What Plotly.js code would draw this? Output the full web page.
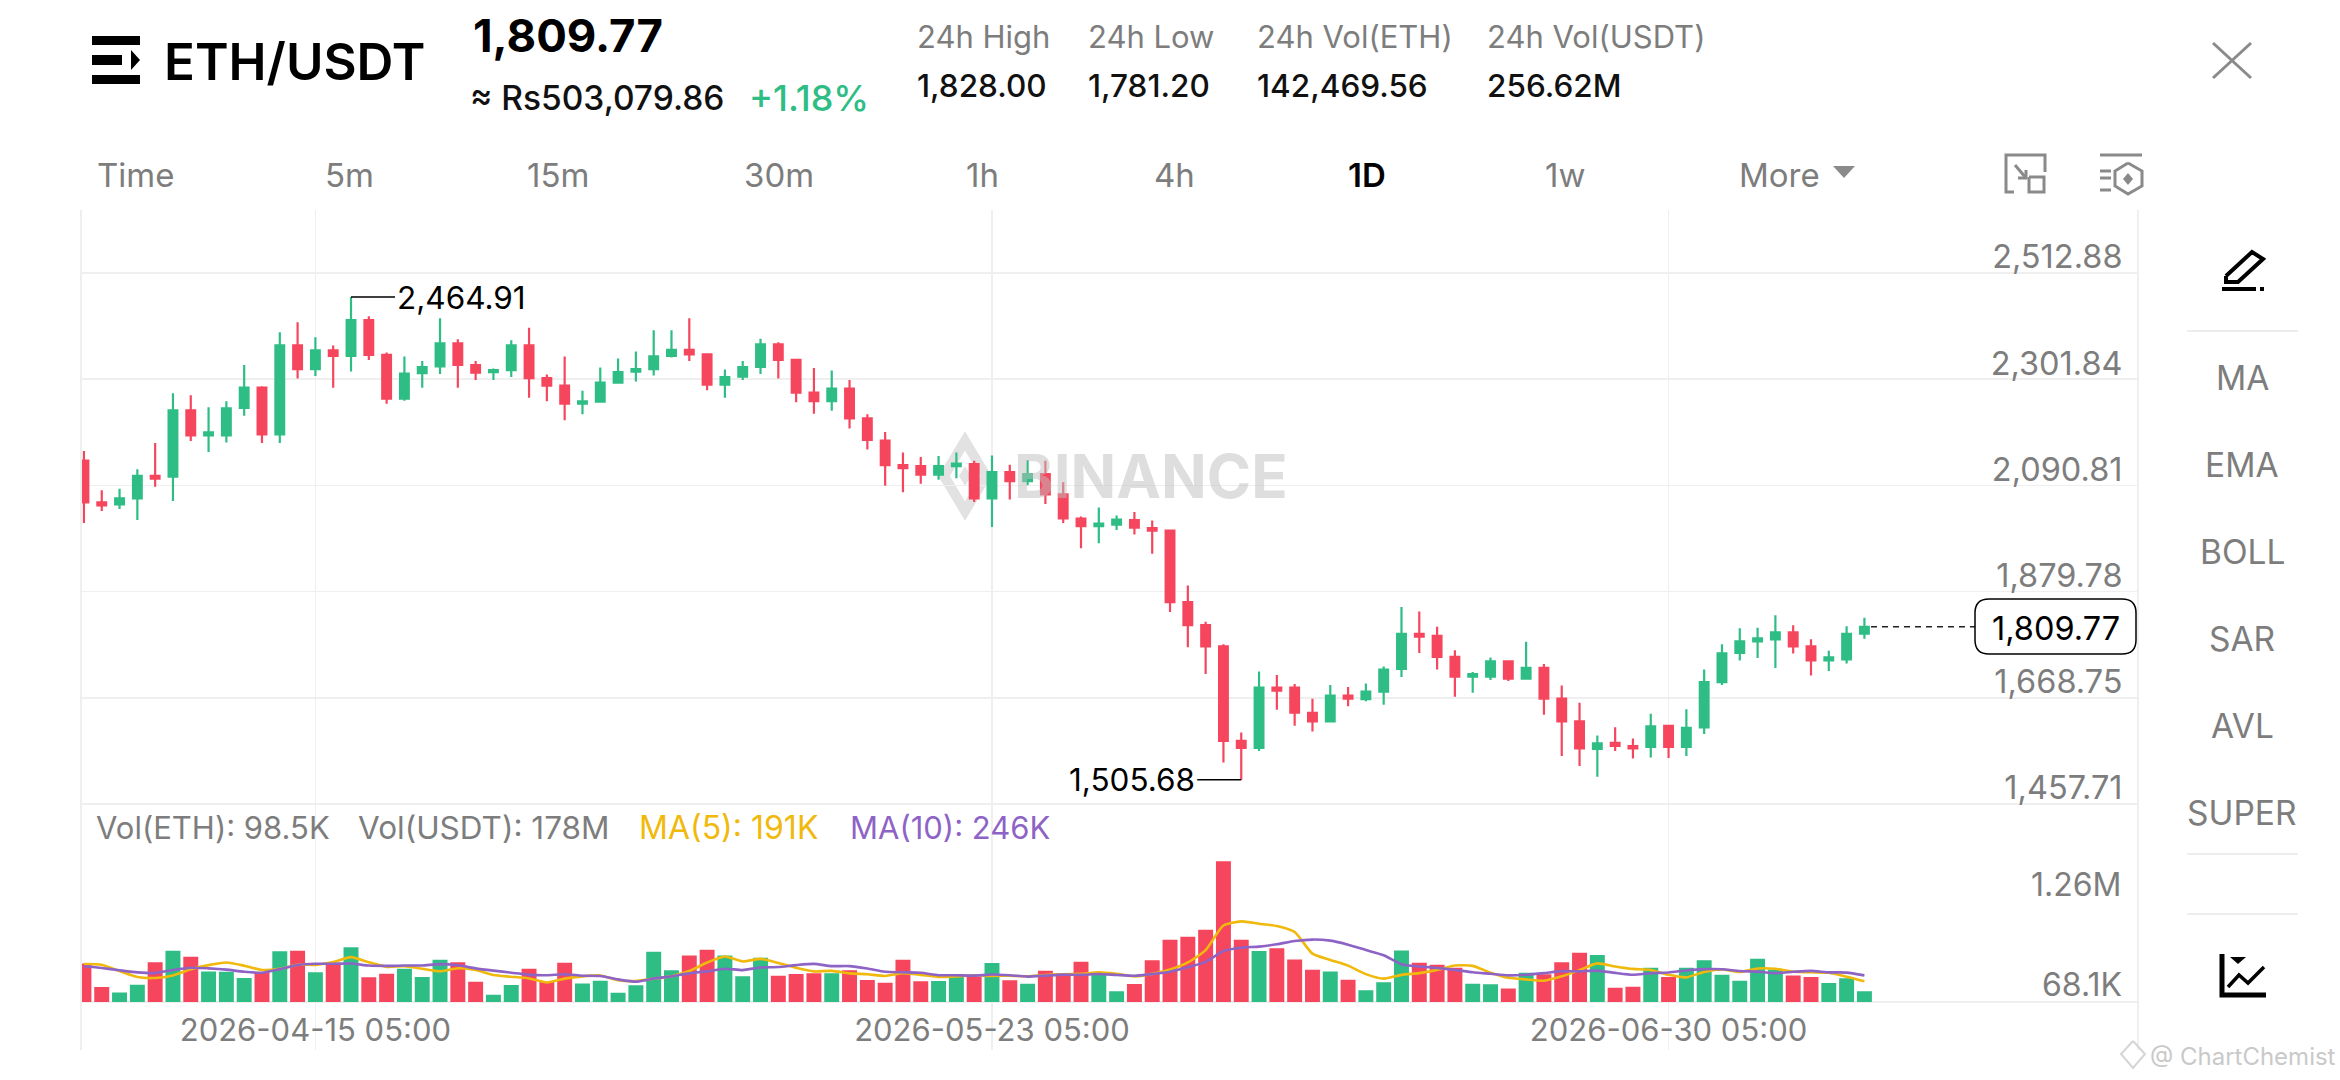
<!DOCTYPE html>
<html>
<head>
<meta charset="utf-8">
<script src="https://cdn.plot.ly/plotly-3.0.1.min.js"></script>
<style>html,body{margin:0;padding:0;background:#fff}#chart{width:2340px;height:1080px}</style>
</head>
<body>
<div id="chart"></div>
<script>
const days = ["04-02","04-03","04-04","04-05","04-06","04-07","04-08","04-09","04-10","04-11","04-12","04-13","04-14","04-15","04-16","04-17","04-18","04-19","04-20","04-21","04-22","04-23","04-24","04-25","04-26","04-27","04-28","04-29","04-30",
"05-01","05-02","05-03","05-04","05-05","05-06","05-07","05-08","05-09","05-10","05-11","05-12","05-13","05-14","05-15","05-16","05-17","05-18","05-19","05-20","05-21","05-22","05-23","05-24","05-25","05-26","05-27","05-28","05-29","05-30","05-31",
"06-01","06-02","06-03","06-04","06-05","06-06","06-07","06-08","06-09","06-10","06-11","06-12","06-13","06-14","06-15","06-16","06-17","06-18","06-19","06-20","06-21","06-22","06-23","06-24","06-25","06-26","06-27","06-28","06-29","06-30",
"07-01","07-02","07-03","07-04","07-05","07-06","07-07","07-08","07-09","07-10","07-11"];
const opens = [2140,2057,2053,2065,2110,2108,2240,2190,2190,2245,2285,2192,2369,2322,2359,2348,2419,2350,2263,2314,2327,2373,2330,2316,2320,2369,2304,2289,2253,2257,2295,2317,2322,2348,2360,2351,2291,2307,2326,2371,2340,2275,2258,2283,2224,2180,2131,2129,2112,2129,2133,2065,2117,2099,2113,2073,2025,2010,2013,2022,2006,2001,1859,1813,1771,1583,1569,1689,1689,1639,1622,1673,1666,1681,1726,1796,1792,1750,1711,1711,1741,1707,1728,1667,1622,1567,1579,1573,1571,1613,1571,1610,1700,1758,1781,1785,1799,1771,1743,1745,1796];
const highs = [2159,2081,2084,2123,2175,2274,2270,2246,2258,2330,2288,2395,2415,2385,2369,2464.91,2427,2355,2347,2338,2423,2381,2338,2323,2379,2404,2311,2347,2279,2325,2343,2357,2399,2399,2423,2353,2321,2338,2382,2375,2341,2324,2319,2300,2232,2197,2156,2147,2149,2156,2140,2150,2132,2141,2140,2097,2029,2047,2031,2038,2021,2003,1892,1820,1775,1600,1721,1714,1696,1667,1694,1690,1697,1731,1849,1840,1810,1763,1720,1749,1741.5,1780,1736,1693,1659,1594,1610,1588,1637,1614,1646,1725,1775,1807,1808,1833,1813,1785,1762,1811,1828];
const lows = [2016,2040,2044,2022,2088,2060,2179,2157,2176,2229,2175,2175,2303,2308,2285,2317,2340,2253,2259,2285,2312,2285,2300,2300,2306,2265,2258,2220,2232,2256,2293,2297,2309,2345,2338,2280,2265,2300,2312,2303,2256,2233,2239,2204,2162,2090,2077,2094,2102,2105,2058,2008,2063,2091,2054,2016,1966,1976,2002,1993,1955,1839,1769,1716,1540,1505.68,1563,1645,1613,1602,1621,1652,1662,1655,1710,1758,1725,1671,1679,1704,1702,1706,1635,1553,1533,1512,1563,1548,1550,1549,1553,1597,1694,1743,1748,1728,1757,1713,1722,1737,1786];
const closes = [2057,2051,2065,2110,2104,2240,2190,2196,2244,2285,2192,2369,2322,2359,2348,2419,2350,2263,2313,2326,2373,2330,2315,2320,2369,2304,2289,2253,2258,2295,2316,2322,2347,2360,2351,2291,2306,2326,2371,2340,2275,2258,2283,2224,2181,2131,2125,2112,2129,2134,2065,2117,2099,2113,2073,2025,2010,2015,2023,2007,2001,1859,1813,1771,1583,1569,1689,1683,1639,1622,1673,1667,1681,1725,1796,1790,1750,1711,1716,1741,1707,1728,1667,1622,1568,1578,1573,1568,1612,1571,1609,1700,1757,1781,1787,1799,1771,1743,1749,1796,1809.77];
const volumesK = [357,139,89,160,367,474,419,283,280,222,277,468,474,274,354,505,228,262,308,231,391,367,188,68,157,308,185,363,172,197,86,154,465,293,431,484,431,237,410,243,259,265,265,293,203,179,391,191,194,231,231,360,200,169,290,268,373,277,99,166,385,576,604,668,1300,576,471,496,394,299,283,206,108,182,477,363,345,317,169,163,126,271,256,367,456,434,132,142,317,231,317,385,253,197,400,299,246,231,176,219,98.5];
const ma5K = [351,345,286,231,222,246,302,341,365,336,296,306,344,343,369,415,367,325,331,307,284,312,297,249,234,218,181,216,237,245,201,194,215,239,286,365,421,375,399,361,316,283,288,265,257,241,266,251,232,237,248,241,243,238,250,257,260,275,261,237,260,301,366,480,707,745,724,702,647,447,389,336,258,216,251,267,295,337,334,271,224,209,197,237,295,357,329,306,296,251,228,278,301,277,310,307,279,275,270,234,191];
const ma10K = [330,314,293,274,268,296,317,311,299,279,271,304,342,354,353,356,337,334,337,338,350,339,311,290,271,251,247,257,243,240,209,188,216,238,265,283,308,295,319,323,341,352,332,332,309,279,275,270,248,247,244,254,247,235,244,253,251,259,250,243,259,280,321,371,472,502,512,534,564,577,567,530,480,432,349,328,315,297,275,261,246,252,267,285,283,290,269,252,266,273,292,304,303,286,281,267,279,288,274,272,246];
const priceTicks = [2512.88,2301.84,2090.81,1879.78,1668.75,1457.71];
const priceTickText = ["2,512.88","2,301.84","2,090.81","1,879.78","1,668.75","1,457.71"];
const dateTicks = ["2026-04-15 05:00","2026-05-23 05:00","2026-06-30 05:00"];
const tabs = ["Time","5m","15m","30m","1h","4h","1D","1w","More"];
const tabLeft = [99,327,529,746,968,1156,1350,1547,1741];
const indicators = ["MA","EMA","BOLL","SAR","AVL","SUPER"];
const indicatorY = [378,465,552,639,726,813];
const statLabels = ["24h High","24h Low","24h Vol(ETH)","24h Vol(USDT)"];
const statValues = ["1,828.00","1,781.20","142,469.56","256.62M"];
const statLeft = [919,1090,1259,1489];

const GREEN="#2EBD85", RED="#F6465D", GREY="#7D7D7D", GRID="#EFEFEF";
const FONT="Inter, 'Noto Sans', sans-serif";
const PX=v=>v/2340, PY=v=>1-v/1080;
const x = days.map(d=>"2026-"+d+" 05:00");
const volColors = closes.map((c,i)=>c>=opens[i]?GREEN:RED);

const txt=(text,px,py,size,color,anchor,weight)=>({text,x:PX((anchor&&anchor!=="left")?px:px-4),y:PY(py),xref:"paper",yref:"paper",xanchor:anchor||"left",yanchor:"middle",showarrow:false,font:{family:FONT,size,color,weight:weight||400}});
const path=(pts,close)=>"M"+pts.map(p=>PX(p[0])+" "+PY(p[1])).join(" L")+(close?" Z":"");
const poly=(pts,fill)=>({type:"path",xref:"paper",yref:"paper",path:path(pts,true),fillcolor:fill,line:{width:0}});
const stroke=(pts,color,w,layer)=>({type:"path",xref:"paper",yref:"paper",path:path(pts,false),fillcolor:"rgba(0,0,0,0)",line:{color,width:w},layer:layer||"above"});

const annotations=[
 txt("ETH/USDT",166,62,51,"#000","left",600),
 txt("1,809.77",475,36,45.5,"#000","left",700),
 txt("≈ Rs503,079.86",472,98,33.5,"#111","left",500),
 txt("+1.18%",751,98,36,GREEN,"left",500),
 txt("Vol(ETH): 98.5K",98,827,31,GREY),
 txt("Vol(USDT): 178M",360,827,31.5,GREY),
 txt("MA(5): 191K",641,827,32,"#F0B90B"),
 txt("MA(10): 246K",852,827,31,"#8D63C6"),
 txt("BINANCE",1016,476,60,"rgba(190,190,190,0.5)","left",700),
 txt("@ ChartChemist",2152,1056,24,"#C9C9C9"),
 txt("1,809.77",2122,628,32.5,"#000","right"),
 {x:x[15],y:2464.91,xref:"x",yref:"y",text:"2,464.91",showarrow:true,arrowhead:0,arrowwidth:1.5,arrowcolor:"#000",ax:44,ay:0,xanchor:"left",yanchor:"middle",font:{family:FONT,size:31.5,color:"#000"}},
 {x:x[65],y:1505.68,xref:"x",yref:"y",text:"1,505.68",showarrow:true,arrowhead:0,arrowwidth:1.5,arrowcolor:"#000",ax:-44,ay:0,xanchor:"right",yanchor:"middle",font:{family:FONT,size:31.5,color:"#000"}},
 {x:2137/2340,y:1260,xref:"paper",yref:"y2",yshift:-19,xshift:-13,xanchor:"right",yanchor:"middle",text:"1.26M",showarrow:false,font:{family:FONT,size:32,color:GREY}},
 {x:2137/2340,y:68.1,xref:"paper",yref:"y2",yshift:10,xshift:-13,xanchor:"right",yanchor:"middle",text:"68.1K",showarrow:false,font:{family:FONT,size:32,color:GREY}}
];
statLabels.forEach((s,i)=>annotations.push(txt(s,statLeft[i],37,31,GREY)));
statValues.forEach((s,i)=>annotations.push(txt(s,statLeft[i],85,31.5,"#111","left",500)));
tabs.forEach((s,i)=>annotations.push(txt(s,tabLeft[i],175,33,s==="1D"?"#000":GREY,"left",s==="1D"?600:400)));
indicators.forEach((s,i)=>annotations.push(txt(s,2242,indicatorY[i],33.5,GREY,"center")));

const R=14,bx0=1975,bx1=2136,by0=599,by1=654;
const shapes=[
 poly([[92,36],[140,36],[140,45],[92,45]],"#000"),
 poly([[92,55],[122,55],[122,65],[92,65]],"#000"),
 poly([[131,50],[140,60],[131,70]],"#000"),
 poly([[92,75],[140,75],[140,84],[92,84]],"#000"),
 stroke([[2213,43],[2251,78]],"#8A8A8A",3),stroke([[2251,43],[2213,78]],"#8A8A8A",3),
 poly([[1833,166],[1855,166],[1844,178]],"#8A8A8A"),
 stroke([[2014,192],[2006,192],[2006,155],[2045,155],[2045,172]],"#8A8A8A",3),
 stroke([[2029,177],[2044,177],[2044,192],[2029,192],[2029,177]],"#8A8A8A",3),
 stroke([[2015,165],[2026,178]],"#8A8A8A",3),stroke([[2026,170],[2026,178],[2018,178]],"#8A8A8A",3),
 stroke([[2100,155],[2142,155]],"#8A8A8A",3),stroke([[2100,171],[2111,171]],"#8A8A8A",3),stroke([[2100,178],[2111,178]],"#8A8A8A",3),stroke([[2100,190],[2111,190]],"#8A8A8A",3),
 stroke([[2128,163],[2142,171],[2142,186],[2128,194],[2115,186],[2115,171],[2128,163]],"#8A8A8A",3),
 poly([[2128,173],[2133,179],[2128,185],[2123,179]],"#8A8A8A"),
 stroke([[2187,331],[2298,331]],"#EDEDED",2),stroke([[2187,854],[2298,854]],"#EDEDED",2),stroke([[2187,914],[2298,914]],"#EDEDED",2),
 stroke([[2226,276],[2252,252],[2263,259],[2238,282],[2226,282],[2226,276]],"#000",4),
 stroke([[2222,289],[2256,289]],"#000",4),stroke([[2260,289],[2264,289]],"#000",4),
 stroke([[2222,954],[2222,995],[2266,995]],"#000",5),
 stroke([[2228,987],[2239,975],[2248,983],[2264,967]],"#000",3.5),
 poly([[2230,957],[2246,957],[2238,964]],"#000"),
 {type:"path",xref:"paper",yref:"paper",layer:"below",path:path([[965,441],[986,476],[965,511],[944,476]],true),fillcolor:"rgba(0,0,0,0)",line:{color:"#E2E2E2",width:10}},
 {type:"path",xref:"paper",yref:"paper",layer:"below",path:path([[965,466],[971,476],[965,486],[959,476]],true),fillcolor:"#E2E2E2",line:{width:0}},
 stroke([[2133,1041],[2145,1054],[2133,1068],[2121,1054],[2133,1041]],"#D5D5D5",2),
 {type:"line",xref:"paper",yref:"y",x0:PX(1871),x1:PX(1975),y0:closes[100],y1:closes[100],line:{color:"#222",width:1.5,dash:"6px,5px"},layer:"above"},
 {type:"path",xref:"paper",yref:"paper",layer:"above",fillcolor:"#fff",line:{color:"#000",width:1.5},
  path:`M${PX(bx0+R)} ${PY(by0)} L${PX(bx1-R)} ${PY(by0)} Q${PX(bx1)} ${PY(by0)} ${PX(bx1)} ${PY(by0+R)} L${PX(bx1)} ${PY(by1-R)} Q${PX(bx1)} ${PY(by1)} ${PX(bx1-R)} ${PY(by1)} L${PX(bx0+R)} ${PY(by1)} Q${PX(bx0)} ${PY(by1)} ${PX(bx0)} ${PY(by1-R)} L${PX(bx0)} ${PY(by0+R)} Q${PX(bx0)} ${PY(by0)} ${PX(bx0+R)} ${PY(by0)} Z`}
];

const DAY=86400000;
const traces=[
 {type:"candlestick",x,open:opens,high:highs,low:lows,close:closes,xaxis:"x",yaxis:"y",width:0.87*DAY,whiskerwidth:0,
  increasing:{line:{color:GREEN,width:2.2},fillcolor:GREEN},decreasing:{line:{color:RED,width:2.2},fillcolor:RED},showlegend:false,hoverinfo:"skip"},
 {type:"bar",x,y:volumesK,width:0.84*DAY,marker:{color:volColors,line:{width:0}},xaxis:"x",yaxis:"y2",showlegend:false,hoverinfo:"skip"},
 {type:"scatter",mode:"lines",x,y:ma5K,line:{color:"#F0B90B",width:2.6,shape:"spline",smoothing:0.6},xaxis:"x",yaxis:"y2",showlegend:false,hoverinfo:"skip"},
 {type:"scatter",mode:"lines",x,y:ma10K,line:{color:"#8D63C6",width:2.6,shape:"spline",smoothing:0.6},xaxis:"x",yaxis:"y2",showlegend:false,hoverinfo:"skip"}
];

// price axis reaches 26px below the 1,457.71 line so that tick label is kept; candles never reach that band
const layout={
 width:2340,height:1080,margin:{l:0,r:0,t:0,b:0,pad:0},paper_bgcolor:"#fff",plot_bgcolor:"rgba(0,0,0,0)",showlegend:false,
 xaxis:{type:"date",domain:[81.5/2340,2137/2340],anchor:"y2",range:["2026-04-02 01:43","2026-07-26 12:26"],rangeslider:{visible:false},
  tickmode:"array",tickvals:dateTicks,ticktext:dateTicks,ticklabelposition:"inside",showgrid:true,gridcolor:GRID,gridwidth:1.5,zeroline:false,showline:false,ticks:"",
  tickfont:{family:FONT,size:31,color:GREY}},
 yaxis:{domain:[1-830/1080,1-210/1080],anchor:"x",side:"right",range:[1406.05,2638],tickmode:"array",tickvals:priceTicks,ticktext:priceTickText,
  ticklabelposition:"inside",ticklabelshift:-16,ticklabelstandoff:18,showgrid:true,gridcolor:GRID,gridwidth:1.5,zeroline:false,showline:true,linecolor:GRID,linewidth:2,mirror:true,ticks:"",
  tickfont:{family:FONT,size:32.5,color:GREY}},
 yaxis2:{domain:[1-1050/1080,1-804/1080],anchor:"x",side:"right",range:[-443.5,1830],tickmode:"array",tickvals:[],showgrid:false,zeroline:true,zerolinecolor:GRID,zerolinewidth:2,showline:true,linecolor:GRID,linewidth:2,mirror:true,showticklabels:false,ticks:""},
 annotations,shapes
};
Plotly.newPlot("chart",traces,layout,{displayModeBar:false,staticPlot:true});
</script>
</body>
</html>
